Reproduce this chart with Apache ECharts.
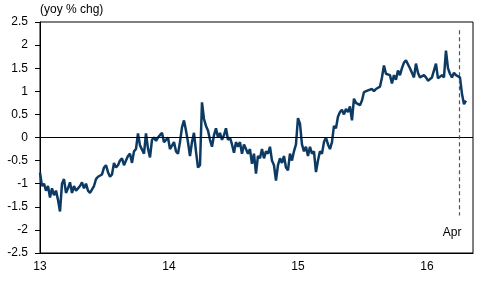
<!DOCTYPE html>
<html>
<head>
<meta charset="utf-8">
<script src="https://cdn.jsdelivr.net/npm/echarts@6/dist/echarts.min.js"></script>
<style>
html,body{margin:0;padding:0;background:#fff;}
#chart{width:498px;height:284px;}
</style>
</head>
<body>
<div id="chart"></div>
<script>
// Time index: start (fractional year) and spacing between readings (years)
var startYear = 2013;
var stepYears = 2 / 129;
// Year-on-year % change readings, evenly spaced in time
var values = [
  -0.76,-1.05,-1.0,-1.15,-1.05,-1.3,-1.1,-1.25,-1.15,-1.35,
  -1.6,-1.0,-0.9,-1.2,-1.1,-0.97,-1.2,-1.05,-1.15,-1.1,
  -1.05,-0.97,-1.1,-1.0,-1.15,-1.2,-1.2,-1.05,-0.9,-0.85,
  -0.85,-0.8,-0.65,-0.6,-0.75,-0.85,-0.8,-0.55,-0.65,-0.6,
  -0.5,-0.45,-0.6,-0.5,-0.4,-0.35,-0.55,-0.3,-0.25,0.09,
  -0.17,-0.2,-0.35,0.09,-0.24,-0.43,-0.05,0.0,-0.07,0.0,
  0.05,0.1,-0.1,-0.05,0.0,-0.25,-0.28,-0.1,-0.3,-0.35,
  -0.1,0.22,0.37,0.15,-0.1,-0.4,-0.1,0.1,-0.3,-0.65,
  -0.6,0.76,0.4,0.25,0.15,-0.05,-0.2,0.05,0.2,0.0,
  0.1,-0.05,0.05,0.2,-0.05,0.0,-0.15,-0.33,-0.1,-0.2,
  -0.1,-0.35,-0.15,-0.25,-0.35,-0.25,-0.57,-0.35,-0.78,-0.4,
  -0.45,-0.25,-0.45,-0.3,-0.35,-0.2,-0.5,-0.6,-0.93,-0.6,
  -0.45,-0.55,-0.4,-0.65,-0.71,-0.35,-0.5,-0.3,-0.15,0.42,
  0.3,-0.15,-0.3,-0.2,-0.4,-0.2,-0.35,-0.3,-0.75,-0.5,
  -0.3,-0.35,-0.1,0.0,-0.15,-0.25,-0.1,0.25,0.2,0.45,
  0.55,0.6,0.5,0.62,0.55,0.67,0.37,0.84,0.75,0.73,
  0.7,0.8,0.98,0.95,1.02,1.0,1.05,1.0,1.05,1.02,
  1.1,1.3,1.56,1.38,1.34,1.35,1.17,1.35,1.25,1.45,
  1.35,1.5,1.62,1.67,1.7,1.5,1.4,1.3,1.6,1.4,
  1.3,1.32,1.35,1.3,1.23,1.25,1.3,1.28,1.6,1.28,
  1.28,1.35,1.3,1.88,1.5,1.38,1.3,1.4,1.35,1.38,
  1.3,0.95,0.72,0.8
];
// Axis settings
var xMin = 2013, xMax = 2016.357, yMin = -2.5, yMax = 2.5, yStep = 0.5;
var yearTicks = [2013, 2014, 2015, 2016];
// Annotation: April 2016 marker
var aprYear = 2016.25, aprTop = 2.32, aprBottom = -1.69, aprLabel = 'Apr';

var seriesData = values.map(function (v, i) { return [startYear + i * stepYears, v]; });

var chart = echarts.init(document.getElementById('chart'), null, {renderer: 'canvas'});
var font = 'Liberation Sans, Arial, sans-serif';
chart.setOption({
  animation: false,
  backgroundColor: '#fff',
  grid: {left: 40, right: 25, top: 22, bottom: 31, show: true, borderColor: '#000', borderWidth: 1},
  xAxis: {
    type: 'value', min: xMin, max: xMax, interval: 1,
    axisLine: {onZero: false, lineStyle: {color: '#000', width: 1}},
    axisTick: {show: false},
    splitLine: {show: false},
    axisLabel: {
      color: '#000', fontFamily: font, fontSize: 12, margin: 8,
      showMaxLabel: false,
      formatter: function (v) { return yearTicks.indexOf(v) >= 0 ? String(v - 2000) : ''; }
    }
  },
  yAxis: {
    type: 'value', min: yMin, max: yMax, interval: yStep,
    name: '(yoy % chg)', nameLocation: 'end', nameGap: 6,
    nameTextStyle: {color: '#000', fontFamily: font, fontSize: 12, align: 'left', verticalAlign: 'bottom'},
    axisLine: {show: true, lineStyle: {color: '#000', width: 1}},
    axisTick: {show: true, inside: false, length: 5, lineStyle: {color: '#000'}},
    splitLine: {show: false},
    axisLabel: {color: '#000', fontFamily: font, fontSize: 12, margin: 12}
  },
  series: [{
    type: 'line',
    data: seriesData,
    showSymbol: false,
    symbol: 'none',
    lineStyle: {color: '#0d3a63', width: 2.5},
    z: 3,
    markLine: {
      silent: true,
      symbol: 'none',
      label: {show: false},
      data: [
        [{coord: [xMin, 0], lineStyle: {color: '#000', width: 1, type: 'solid'}}, {coord: [xMax, 0]}],
        [{coord: [aprYear, aprTop], lineStyle: {color: '#3d5a7a', width: 1.2, type: [4, 3]}}, {coord: [aprYear, aprBottom]}]
      ]
    },
    markPoint: {
      silent: true,
      symbol: 'rect', symbolSize: 0,
      data: [{coord: [aprYear - 0.055, aprBottom - 0.36], value: aprLabel}],
      label: {show: true, formatter: aprLabel, color: '#000', fontFamily: font, fontSize: 12, position: 'inside'}
    }
  }]
});
</script>
</body>
</html>
